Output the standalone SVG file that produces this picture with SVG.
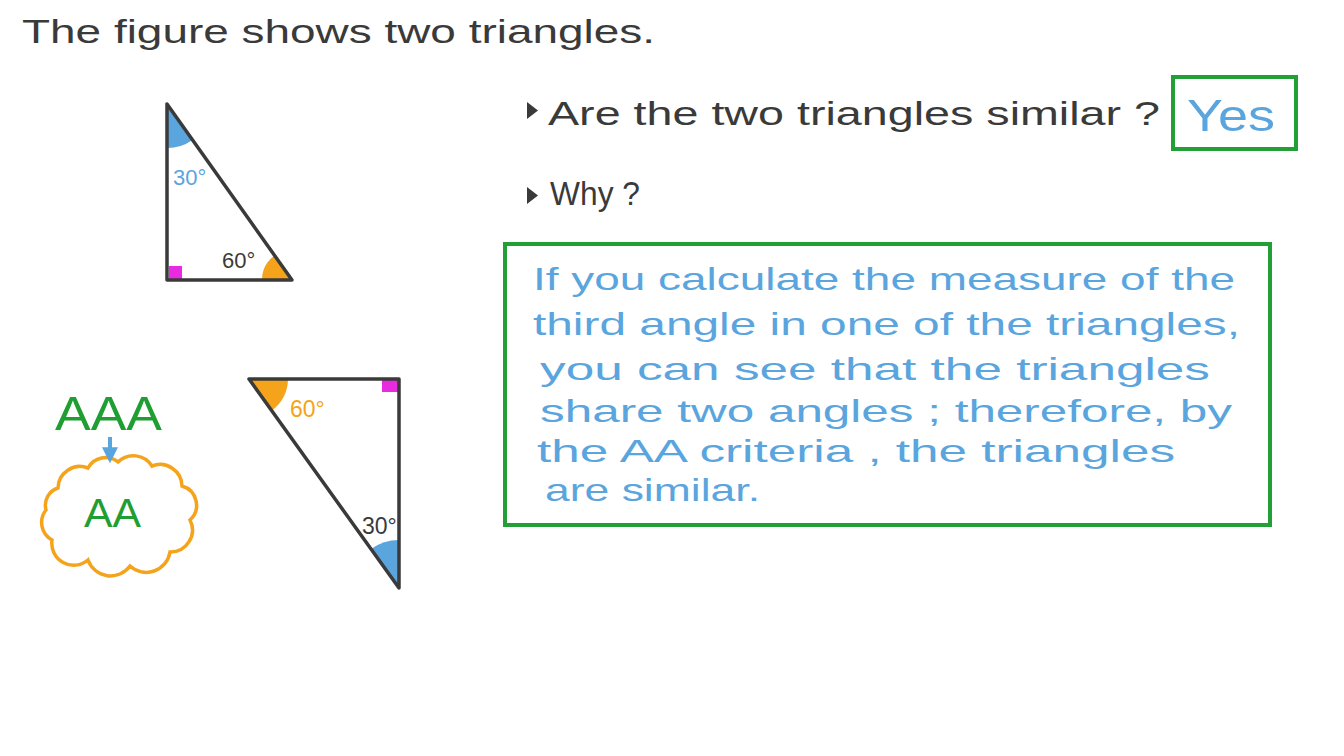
<svg xmlns="http://www.w3.org/2000/svg" width="1344" height="756" viewBox="0 0 1344 756">
<style>
text{font-family:"Liberation Sans","Open Sans",sans-serif}
.dk{fill:#3a3a3a}
.bl{fill:#5aa5de}
.gr{fill:#1f9e32}
.or{fill:#f5a31b}
.edge{fill:none;stroke:#3a3a3a;stroke-width:3.5;stroke-linejoin:round;stroke-linecap:round}
.box{fill:none;stroke:#22a035;stroke-width:4}
.pink{fill:#e82be0}
.ob{fill:#f5a31b}
.bb{fill:#5aa5de}
.ans{font-size:32px}
</style>
<defs>
<marker id="ah" viewBox="0 0 10 10" refX="8" refY="5" markerWidth="4" markerHeight="4" orient="auto"><path d="M0,0 L10,5 L0,10 Z" fill="#5aa5de"/></marker>
</defs>
<rect width="1344" height="756" fill="#ffffff"/>
<g id="title"><text class="dk" x="22" y="43" font-size="34" textLength="633" lengthAdjust="spacingAndGlyphs">The figure shows two triangles.</text></g>
<g id="triangle1">
<path class="bb" d="M167,104 L167,148 A44,44 0 0 0 192.5,139.9 Z"/>
<path class="ob" d="M292,280 L262,280 A30,30 0 0 1 274.6,255.5 Z"/>
<rect class="pink" x="169" y="266" width="13" height="13"/>
<polygon class="edge" points="167,104 167,280 292,280"/>
<text class="bl" x="173" y="185" font-size="22">30°</text>
<text class="dk" x="222" y="268" font-size="22">60°</text>
</g>
<g id="triangle2">
<path class="ob" d="M249,379 L288,379 A39,39 0 0 1 271.7,410.7 Z"/>
<path class="bb" d="M399,588 L399,540 A48,48 0 0 0 371,549 Z"/>
<rect class="pink" x="382" y="380" width="16" height="12"/>
<polygon class="edge" points="249,379 399,379 399,588"/>
<text class="or" x="290" y="417" font-size="23">60°</text>
<text class="dk" x="362" y="534" font-size="23">30°</text>
</g>
<g id="aaa-note">
<text class="gr" x="55" y="430" font-size="48" textLength="107" lengthAdjust="spacingAndGlyphs">AAA</text>
<path d="M58,488 A22,22 0 0 1 88,468 A20,20 0 0 1 118,462 A22,22 0 0 1 152,466 A22,22 0 0 1 182,486 A20,20 0 0 1 190,520 A22,22 0 0 1 170,552 A24,24 0 0 1 130,566 A24,24 0 0 1 88,560 A22,22 0 0 1 52,540 A20,20 0 0 1 46,510 A18,18 0 0 1 58,488 Z" fill="none" stroke="#f5a31b" stroke-width="3.5"/>
<text class="gr" x="84" y="527" font-size="40" textLength="57" lengthAdjust="spacingAndGlyphs">AA</text>
</g>
<g id="connectors">
<line x1="110" y1="437" x2="110" y2="460" stroke="#5aa5de" stroke-width="4" marker-end="url(#ah)"/>
</g>
<g id="question">
<polygon points="527,102 527,119 538,110.5" fill="#3a3a3a"/>
<text class="dk" x="548" y="125" font-size="34" textLength="612" lengthAdjust="spacingAndGlyphs">Are the two triangles similar ?</text>
</g>
<g id="yes">
<rect class="box" x="1173" y="77" width="123" height="72"/>
<text class="bl" x="1187" y="131" font-size="44" textLength="88" lengthAdjust="spacingAndGlyphs">Yes</text>
</g>
<g id="why">
<polygon points="527,187 527,204 538,195.5" fill="#3a3a3a"/>
<text class="dk" x="550" y="205" font-size="34" textLength="90" lengthAdjust="spacingAndGlyphs">Why ?</text>
</g>
<g id="answer">
<rect class="box" x="505" y="244" width="765" height="281"/>
<text class="bl ans" x="533" y="290" textLength="702" lengthAdjust="spacingAndGlyphs">If you calculate the measure of the</text>
<text class="bl ans" x="533" y="335" textLength="707" lengthAdjust="spacingAndGlyphs">third angle in one of the triangles,</text>
<text class="bl ans" x="540" y="380" textLength="670" lengthAdjust="spacingAndGlyphs">you can see that the triangles</text>
<text class="bl ans" x="540" y="422" textLength="692" lengthAdjust="spacingAndGlyphs">share two angles ; therefore, by</text>
<text class="bl ans" x="537" y="462" textLength="638" lengthAdjust="spacingAndGlyphs">the AA criteria , the triangles</text>
<text class="bl ans" x="545" y="501" textLength="215" lengthAdjust="spacingAndGlyphs">are similar.</text>
</g>
</svg>
